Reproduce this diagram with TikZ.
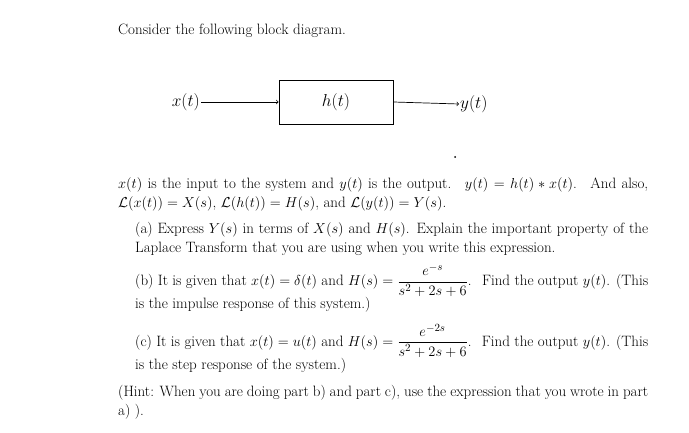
\documentclass[tikz,border=0pt]{standalone}
\usepackage{amsmath,amssymb}
\begin{document}
\begin{tikzpicture}[x=1pt,y=-1pt,
  txt/.style={anchor=north west,inner sep=0pt,align=left,font=\fontsize{15}{19}\selectfont},
  blk/.style={draw,line width=0.9pt,minimum width=114pt,minimum height=44pt},
  sig/.style={->,line width=0.7pt},
  hand/.style={font=\fontsize{19}{24}\selectfont,inner sep=1pt}]
\useasboundingbox (0,0) rectangle (689,433);
\node[txt] (t0) at (118,24) {Consider the following block diagram.};
\node[blk] (h) at (336,102) {};
\node[hand] (hl) at (h.center) {$h(t)$};
\node[hand,anchor=east] (x) at (201,102) {$x(t)$};
\node[hand,anchor=west] (y) at (459,104) {$y(t)$};
\draw[sig] (x.east) -- (h.west);
\draw[sig] (h.east) -- (y.west);
\fill (455,157) circle (1pt);
\node[txt,text width=530pt,align=justify] (p) at (118,178) {$x(t)$ is the input to the system and $y(t)$ is the output. \ $y(t)=h(t)*x(t)$. \ And also, $\mathcal{L}(x(t))=X(s)$, $\mathcal{L}(h(t))=H(s)$, and $\mathcal{L}(y(t))=Y(s)$.};
\node[txt,text width=513pt,align=justify] (a) at (135,222) {\hangindent=23pt\hangafter=1 (a)\ Express $Y(s)$ in terms of $X(s)$ and $H(s)$. Explain the important property of the Laplace Transform that you are using when you write this expression.};
\node[txt,text width=513pt,align=justify] (b) at (135,264) {\hangindent=23pt\hangafter=1 (b)\ It is given that $x(t)=\delta(t)$ and $H(s)=\dfrac{e^{-s}}{s^2+2s+6}$. \ Find the output $y(t)$. (This is the impulse response of this system.)};
\node[txt,text width=513pt,align=justify] (c) at (135,324) {\hangindent=23pt\hangafter=1 (c)\ It is given that $x(t)=u(t)$ and $H(s)=\dfrac{e^{-2s}}{s^2+2s+6}$. \ Find the output $y(t)$. (This is the step response of the system.)};
\node[txt,text width=530pt,align=justify] (hint) at (118,385) {(Hint: When you are doing part b) and part c), use the expression that you wrote in part a) ).};
\end{tikzpicture}
\end{document}
